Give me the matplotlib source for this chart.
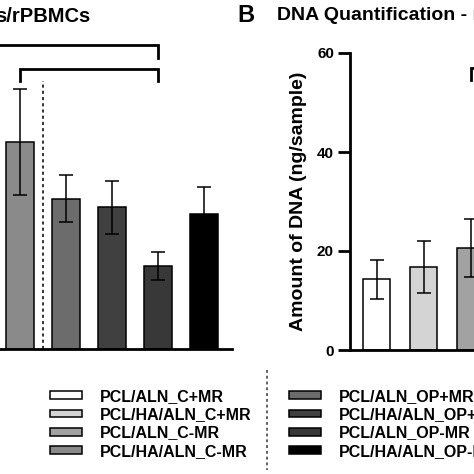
import matplotlib
matplotlib.use("Agg")
import matplotlib.pyplot as plt
from matplotlib.patches import Patch
from matplotlib.lines import Line2D

plt.rcParams['font.family'] = ['Liberation Sans', 'DejaVu Sans']
plt.rcParams['font.weight'] = 'bold'
plt.rcParams['axes.labelweight'] = 'bold'

groups = ["PCL/ALN_C+MR", "PCL/HA/ALN_C+MR", "PCL/ALN_C-MR", "PCL/HA/ALN_C-MR",
          "PCL/ALN_OP+MR", "PCL/HA/ALN_OP+MR", "PCL/ALN_OP-MR", "PCL/HA/ALN_OP-MR"]
group_colors = ["#ffffff", "#d4d4d4", "#a2a2a2", "#8a8a8a",
                "#6c6c6c", "#404040", "#383838", "#000000"]

# panel A (only groups 3..7 are in view)
a_idx = [3, 4, 5, 6, 7]
a_mean = [42.0, 30.5, 28.7, 16.8, 27.3]
a_err = [10.7, 4.7, 5.4, 2.8, 5.6]
# brackets: (from group, to group, height, drop)
a_brackets = [(0, 6, 61.6, 2.6), (3, 6, 56.8, 2.5)]

# panel B (only groups 0..2 are in view)
b_idx = [0, 1, 2]
b_mean = [14.3, 16.8, 20.6]
b_err = [3.9, 5.3, 5.9]
b_brackets = [(2, 7, 57.0, 2.5)]
b_ticks = [0, 20, 40, 60]

W = H = 474
fig = plt.figure(figsize=(W / 100, H / 100), dpi=100)


def px_axes(left, top, width, height):
    return fig.add_axes([left / W, (H - top - height) / H, width / W, height / H])


def draw_bars(ax, idx, mean, err):
    ax.bar(idx, mean, width=0.59, color=[group_colors[i] for i in idx],
           edgecolor="black", linewidth=1.1, zorder=2)
    ax.errorbar(idx, mean, yerr=err, fmt="none", ecolor="black",
                elinewidth=1.1, capsize=4.7, capthick=1.1, zorder=3)


def draw_brackets(ax, brackets):
    for x1, x2, y, d in brackets:
        ax.plot([x1, x1, x2, x2], [y - d, y, y, y - d], color="black",
                lw=2, clip_on=False, solid_joinstyle="miter")


# ---- panel A (its y axis lies outside the crop)
axA = px_axes(-146, 53, 378, 296)
draw_bars(axA, a_idx, a_mean, a_err)
draw_brackets(axA, a_brackets)
axA.plot([3.5, 3.5], [0, 54.3], color="#333333", lw=1.4,
         linestyle=(0, (1.6, 1.6)), zorder=1)
axA.set_xlim(-0.61, 7.61)
axA.set_ylim(0, 60)
for s in ["top", "right"]:
    axA.spines[s].set_visible(False)
axA.spines["bottom"].set_linewidth(2)
axA.spines["left"].set_linewidth(2)
axA.set_xticks([])
axA.set_yticks([])
fig.text(91 / W, 1 - 17 / H, "s/rPBMCs", ha="right", va="center",
         fontsize=14.5, fontweight="bold")

# ---- panel B
axB = px_axes(350, 53, 382, 297)
draw_bars(axB, b_idx, b_mean, b_err)
draw_brackets(axB, b_brackets)
axB.set_xlim(-0.564, 7.56)
axB.set_ylim(0, 60)
axB.set_yticks(b_ticks)
axB.tick_params(axis="y", length=8.6, width=2, pad=3, labelsize=11)
for lab in axB.get_yticklabels():
    lab.set_fontweight("bold")
for s in ["top", "right"]:
    axB.spines[s].set_visible(False)
axB.spines["bottom"].set_linewidth(2)
axB.spines["left"].set_linewidth(2)
axB.set_xticks([])
axB.set_ylabel("Amount of DNA (ng/sample)", fontsize=14, fontweight="bold",
               labelpad=7)
fig.text(237 / W, 1 - 15 / H, "B", ha="left", va="center", fontsize=17,
         fontweight="bold")
fig.text(277 / W, 1 - 15 / H, "DNA Quantification - rMSCs/rPBMCs", ha="left",
         va="center", fontsize=14, fontweight="bold")

# ---- legends
def make_legend(names, x_px):
    handles = [Patch(facecolor=group_colors[groups.index(n)], edgecolor="black",
                     linewidth=1.1) for n in names]
    leg = fig.legend(handles, names, loc="upper left",
                     bbox_to_anchor=(x_px / W, 1 - 389 / H), frameon=False,
                     borderpad=0, borderaxespad=0, handlelength=2.0,
                     handleheight=0.38, handletextpad=1.1, labelspacing=0.2,
                     prop={"size": 11.5, "weight": "bold"})
    return leg


make_legend(groups[:4], 50)
make_legend(groups[4:], 289)
fig.add_artist(Line2D([267 / W, 267 / W], [1 - 370 / H, 1 - 470 / H],
                      color="#555555", lw=1.3, linestyle=(0, (1.6, 1.6))))

fig.savefig("out.png", dpi=100)
